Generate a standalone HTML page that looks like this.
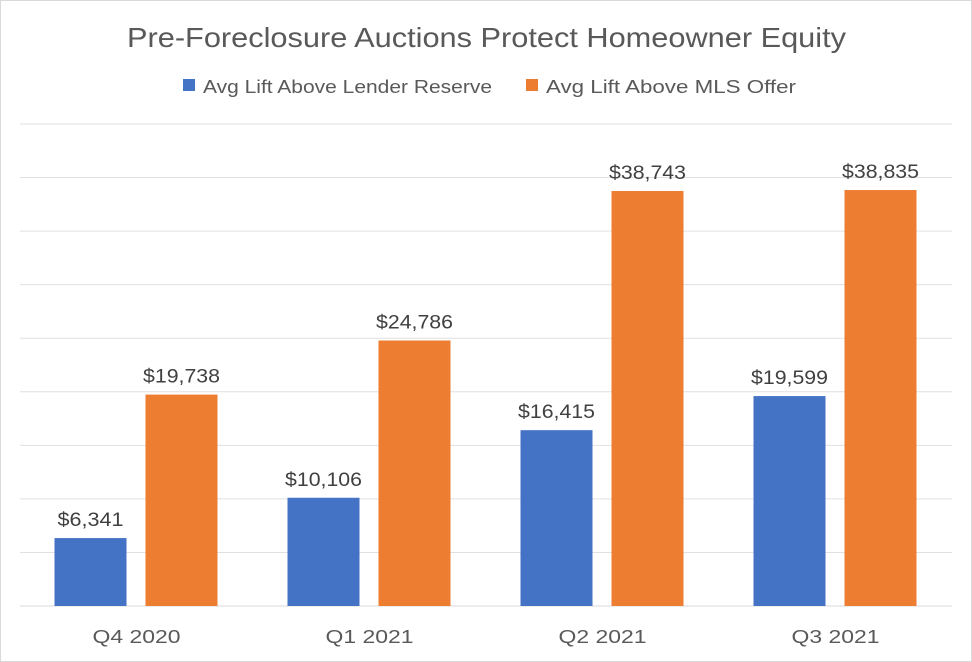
<!DOCTYPE html>
<html><head><meta charset="utf-8"><style>
body{margin:0;background:#fff}
svg{display:block;font-family:"Liberation Sans",sans-serif}
</style></head><body>
<svg id="chart" width="972" height="662">
<rect x="0.5" y="0.5" width="971" height="661" fill="#fff" stroke="#d9d9d9"/>
<text x="127" y="47" textLength="719" lengthAdjust="spacingAndGlyphs" font-size="28" fill="#595959">Pre-Foreclosure Auctions Protect Homeowner Equity</text>
<g>
<rect x="183" y="79" width="12" height="12" fill="#4472c4"/>
<text x="203" y="93" textLength="289" lengthAdjust="spacingAndGlyphs" font-size="18" fill="#595959">Avg Lift Above Lender Reserve</text>
<rect x="526" y="79" width="12" height="12" fill="#ed7d31"/>
<text x="546" y="93" textLength="250" lengthAdjust="spacingAndGlyphs" font-size="18" fill="#595959">Avg Lift Above MLS Offer</text>
</g>
<g id="grid"></g><g id="bars"></g><g id="labels"></g>
</svg>
<script>
const categories=["Q4 2020","Q1 2021","Q2 2021","Q3 2021"];
const reserveValues=[6341,10106,16415,19599];
const mlsValues=[19738,24786,38743,38835];
const yTicks=[0,5000,10000,15000,20000,25000,30000,35000,40000,45000];
const NS="http://www.w3.org/2000/svg";
const x0=20,x1=952,y0=606,y1=124,yMax=45000;
const y=v=>y0-(y0-y1)*v/yMax;
const catW=(x1-x0)/categories.length;
const fmt=v=>"$"+v.toLocaleString("en-US");
function mk(tag,attrs,parent){const e=document.createElementNS(NS,tag);for(const k in attrs)e.setAttribute(k,attrs[k]);document.getElementById(parent).appendChild(e);return e;}
yTicks.forEach(t=>{
  const l=mk("line",{x1:x0,x2:x1,y1:y(t),y2:y(t),stroke:t===0?"#d9d9d9":"#e0e0e0","stroke-width":1},"grid");
  
  
});
categories.forEach((c,i)=>{
  const cx=x0+catW*(i+0.5);
  const bw=72;
  [[reserveValues[i],"#4472c4",cx-bw-10,"reserve"],[mlsValues[i],"#ed7d31",cx+9,"mls"]].forEach(([v,col,bx,s])=>{
    const r=mk("rect",{x:bx,y:y(v),width:bw,height:y0-y(v),fill:col},"bars");
    
    
    const txt=fmt(v);
    const t=mk("text",{x:bx+bw/2,y:y(v)-12,"text-anchor":"middle","font-size":19,fill:"#404040",textLength:txt.length*11,lengthAdjust:"spacingAndGlyphs"},"labels");
    t.textContent=txt;
    
    
  });
  const ct=mk("text",{x:cx,y:643,"text-anchor":"middle","font-size":18,fill:"#595959",textLength:88,lengthAdjust:"spacingAndGlyphs"},"labels");
  ct.textContent=c;
  
  
});
</script>
</body></html>
